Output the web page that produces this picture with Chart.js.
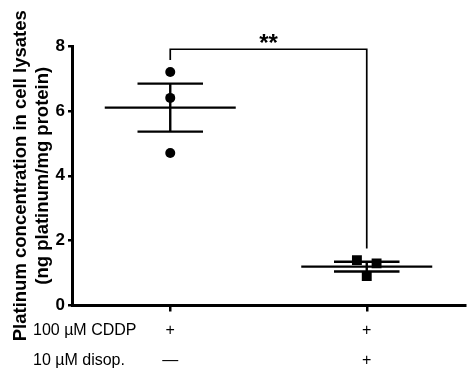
<!DOCTYPE html>
<html>
<head>
<meta charset="utf-8">
<script src="https://cdn.jsdelivr.net/npm/chart.js@4/dist/chart.umd.min.js"></script>
<style>
  html, body { margin: 0; padding: 0; background: #fff; }
  #wrap { width: 474px; height: 374px; }
</style>
</head>
<body>
<div id="wrap"><canvas id="c" width="474" height="374"></canvas></div>
<script>
// ---- data ----
const groupPositions = [1, 2];
const rowLabels = ['100 µM CDDP', '10 µM disop.'];
const cddpRow = ['+', '+'];
const disopRow = ['—', '+'];
const cddpOnlyValues = [7.2, 6.4, 4.7];
const cddpOnlyX = [1, 1, 1];
const comboValues = [1.40, 1.30, 0.91];
const comboX = [1.95, 2.05, 2.0];
const groupMeans = [6.1, 1.2];
const groupSems = [0.74, 0.15];
const yTicks = [0, 2, 4, 6, 8];
const bracketTop = 7.9;
const bracketLegEnds = [7.57, 1.76];
const significance = '**';
const yTitle = ['Platinum concentration in cell lysates', '(ng platinum/mg protein)'];

const FONT = "'Liberation Sans', Arial, sans-serif";

const overlay = {
  id: 'overlay',
  beforeDatasetsDraw(chart) {
    const { ctx, scales: { x, y } } = chart;
    ctx.save();
    ctx.strokeStyle = '#000';
    ctx.lineWidth = 2.4;
    ctx.lineCap = 'butt';
    groupPositions.forEach((g, i) => {
      const m = groupMeans[i], s = groupSems[i];
      const line = (x1, y1, x2, y2) => {
        ctx.beginPath();
        ctx.moveTo(x.getPixelForValue(x1), y.getPixelForValue(y1));
        ctx.lineTo(x.getPixelForValue(x2), y.getPixelForValue(y2));
        ctx.stroke();
      };
      line(g - 1/3, m, g + 1/3, m);
      line(g, m - s, g, m + s);
      line(g - 1/6, m + s, g + 1/6, m + s);
      line(g - 1/6, m - s, g + 1/6, m - s);
    });
    // significance bracket
    ctx.lineWidth = 1.7;
    ctx.beginPath();
    ctx.moveTo(x.getPixelForValue(groupPositions[0]), y.getPixelForValue(bracketLegEnds[0]));
    ctx.lineTo(x.getPixelForValue(groupPositions[0]), y.getPixelForValue(bracketTop));
    ctx.lineTo(x.getPixelForValue(groupPositions[1]), y.getPixelForValue(bracketTop));
    ctx.lineTo(x.getPixelForValue(groupPositions[1]), y.getPixelForValue(bracketLegEnds[1]));
    ctx.stroke();
    ctx.fillStyle = '#000';
    ctx.font = 'bold 24px ' + FONT;
    ctx.textAlign = 'center';
    ctx.textBaseline = 'alphabetic';
    const midX = (x.getPixelForValue(groupPositions[0]) + x.getPixelForValue(groupPositions[1])) / 2;
    ctx.fillText(significance, midX, y.getPixelForValue(bracketTop) + 1.5);
    ctx.restore();
  },
  afterDraw(chart) {
    const { ctx, scales: { x } } = chart;
    ctx.save();
    ctx.fillStyle = '#000';
    ctx.font = '16px ' + FONT;
    ctx.textBaseline = 'alphabetic';
    ctx.textAlign = 'left';
    const rowY = [335, 365];
    ctx.fillText(rowLabels[0], 33, rowY[0]);
    ctx.fillText(rowLabels[1], 33, rowY[1]);
    ctx.textAlign = 'center';
    groupPositions.forEach((g, i) => {
      const px = x.getPixelForValue(g);
      ctx.fillText(cddpRow[i], px, rowY[0]);
      ctx.fillText(disopRow[i], px, rowY[1]);
    });
    ctx.restore();
  }
};

new Chart(document.getElementById('c'), {
  type: 'scatter',
  data: {
    datasets: [
      {
        data: cddpOnlyValues.map((v, i) => ({ x: cddpOnlyX[i], y: v })),
        pointStyle: 'circle',
        pointRadius: 5,
        backgroundColor: '#000',
        borderColor: '#000',
        borderWidth: 0
      },
      {
        data: comboValues.map((v, i) => ({ x: comboX[i], y: v })),
        pointStyle: 'rect',
        pointRadius: 7,
        backgroundColor: '#000',
        borderColor: '#000',
        borderWidth: 0
      }
    ]
  },
  options: {
    responsive: false,
    animation: false,
    devicePixelRatio: 1,
    layout: { padding: { top: 46, right: 9, left: 0, bottom: 0 } },
    plugins: { legend: { display: false }, tooltip: { enabled: false } },
    scales: {
      x: {
        type: 'linear',
        min: 0.5,
        max: 2.5,
        afterBuildTicks: (s) => { s.ticks = groupPositions.map(v => ({ value: v })); },
        afterFit: (s) => { s.height = 374 - 305.5; },
        ticks: { display: false },
        grid: { drawOnChartArea: false, drawTicks: true, tickLength: 6, tickWidth: 2.5, tickColor: '#000', color: '#000', lineWidth: 2.5 },
        border: { display: true, color: '#000', width: 3 }
      },
      y: {
        type: 'linear',
        min: 0,
        max: 8,
        afterBuildTicks: (s) => { s.ticks = yTicks.map(v => ({ value: v })); },
        afterFit: (s) => { s.width = 72; },
        ticks: { color: '#000', font: { family: FONT, size: 17, weight: 'bold' }, padding: 3 },
        grid: { drawOnChartArea: false, drawTicks: true, tickLength: 4, tickWidth: 2.5, tickColor: '#000', color: '#000', lineWidth: 2.5 },
        border: { display: true, color: '#000', width: 3 },
        title: {
          display: true,
          text: yTitle,
          color: '#000',
          font: { family: FONT, size: 18.5, weight: 'bold', lineHeight: 1.2 },
          padding: { top: 9.5, bottom: 0 }
        }
      }
    }
  },
  plugins: [overlay]
});
</script>
</body>
</html>
